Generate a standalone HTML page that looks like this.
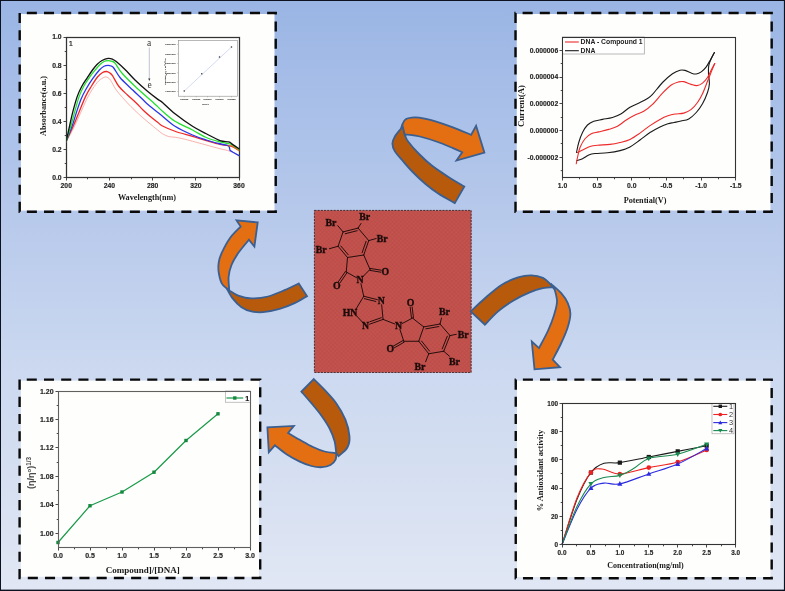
<!DOCTYPE html>
<html><head><meta charset="utf-8"><title>Graphical abstract</title>
<style>html,body{margin:0;padding:0;background:#c3d1ee;overflow:hidden}svg{display:block}</style></head><body>
<svg width="785" height="591" viewBox="0 0 785 591">
<defs>
<linearGradient id="bg" x1="0" y1="0" x2="0" y2="1">
<stop offset="0" stop-color="#9ab5e4"/>
<stop offset="0.17" stop-color="#a8bfe8"/>
<stop offset="0.365" stop-color="#b7c9eb"/>
<stop offset="0.635" stop-color="#ccd9f0"/>
<stop offset="0.8" stop-color="#d5dff1"/>
<stop offset="1" stop-color="#e1e7f4"/>
</linearGradient>
<pattern id="tex" width="3" height="3" patternUnits="userSpaceOnUse" patternTransform="rotate(45)"><rect width="1.5" height="1.5" fill="#fff" opacity="0.035"/><rect x="1.5" y="1.5" width="1.5" height="1.5" fill="#000" opacity="0.035"/></pattern>
</defs>
<rect x="0" y="0" width="785" height="591" fill="#0c1220"/>
<rect x="1" y="1" width="782.9" height="588.6" fill="url(#bg)"/>
<rect x="20.95" y="14" width="253.55" height="196.6" fill="#fefefd"/>
<path d="M19.7 13V211.8H275.75V13Z" pathLength="53" fill="none" stroke="#0a0a0a" stroke-width="2.4" stroke-dasharray="0.585 0.415"/>
<rect x="66.5" y="37.5" width="173" height="140" fill="none" stroke="#333333" stroke-width="1.25"/>
<path d="M63.5 37.5h3M64.7 51.5h1.8M63.5 65.5h3M64.7 79.5h1.8M63.5 93.5h3M64.7 107.5h1.8M63.5 121.5h3M64.7 135.5h1.8M63.5 149.5h3M64.7 163.5h1.8M63.5 177.5h3" stroke="#333333" stroke-width="0.9" fill="none"/>
<g font-family="Liberation Sans, Arial, sans-serif" font-weight="bold" font-size="6.8" fill="#262626" stroke="#262626" stroke-width="0.15" text-anchor="end">
<text x="61.65" y="39.4">1.0</text>
<text x="61.65" y="67.54">0.8</text>
<text x="61.65" y="95.68">0.6</text>
<text x="61.65" y="123.82">0.4</text>
<text x="61.65" y="151.96">0.2</text>
<text x="61.65" y="180.1">0.0</text>
</g>
<path d="M66.5 177.5v3M87.5 177.5v1.8M109.5 177.5v3M131.5 177.5v1.8M152.5 177.5v3M174.5 177.5v1.8M195.5 177.5v3M217.5 177.5v1.8M239.5 177.5v3" stroke="#333333" stroke-width="0.9" fill="none"/>
<g font-family="Liberation Sans, Arial, sans-serif" font-weight="bold" font-size="6.8" fill="#262626" stroke="#262626" stroke-width="0.15" text-anchor="middle">
<text x="66.25" y="188">200</text>
<text x="109.44" y="188">240</text>
<text x="152.63" y="188">280</text>
<text x="195.82" y="188">320</text>
<text x="239.01" y="188">360</text>
</g>
<text transform="translate(45.6 106) rotate(-90)" font-family="Liberation Serif, Times New Roman, serif" font-weight="bold" font-size="8.2" fill="#1a1a1a" text-anchor="middle" >Absorbance(a.u.)</text>
<text x="147" y="199.6" font-family="Liberation Serif, Times New Roman, serif" font-weight="bold" font-size="8.2" fill="#1a1a1a" text-anchor="middle">Wavelength(nm)</text>
<text x="68.8" y="45.6" font-family="Liberation Sans, Arial, sans-serif" font-size="7.6" fill="#111" stroke="#111" stroke-width="0.15">1</text>
<text x="147" y="45.6" font-family="Liberation Serif, Times New Roman, serif" font-size="9.5" fill="#333">a</text>
<text x="147.6" y="88" font-family="Liberation Serif, Times New Roman, serif" font-size="9.5" fill="#333">e</text>
<path d="M149.3 47.5V79.5" stroke="#8088a8" stroke-width="0.5" fill="none"/><path d="M148.2 78.5h2.2l-1.1 2.6z" fill="#333"/>
<clipPath id="c1"><rect x="66.25" y="37" width="173.25" height="140.7"/></clipPath>
<g clip-path="url(#c1)" fill="none" stroke-linejoin="round" stroke-linecap="round">
<path d="M66.25 142 C67.66 139.3 72.24 130.82 74.7 125.8 C77.16 120.78 79 116.33 81 111.9 C83 107.47 84.78 103.02 86.7 99.2 C88.62 95.38 90.48 92.07 92.5 89 C94.52 85.93 96.9 82.73 98.8 80.8 C100.7 78.87 102.63 78.03 103.9 77.4 C105.17 76.77 105.45 76.75 106.4 77 C107.35 77.25 108.67 77.95 109.6 78.9 C110.53 79.85 110.89 80.85 112 82.7 C113.11 84.55 114.5 87.53 116.25 90 C118 92.47 120.62 95.33 122.5 97.5 C124.38 99.67 125.42 100.83 127.5 103 C129.58 105.17 132.58 108.17 135 110.5 C137.42 112.83 139.5 114.79 142 117 C144.5 119.21 147.5 121.67 150 123.75 C152.5 125.83 154.92 127.83 157 129.5 C159.08 131.17 160.54 132.57 162.5 133.75 C164.46 134.93 166.67 136.03 168.75 136.6 C170.83 137.17 172.62 136.83 175 137.2 C177.38 137.57 180.08 138.12 183 138.8 C185.92 139.48 188.62 140.22 192.5 141.25 C196.38 142.28 201.67 143.75 206.25 145 C210.83 146.25 216.04 147.71 220 148.75 C223.96 149.79 226.83 150.11 230 151.25 C233.17 152.39 237.5 154.88 239 155.6" stroke="#f9a8a4" stroke-width="0.9"/>
<path d="M66.25 141 C67.44 138.47 71.26 130.65 73.4 125.8 C75.54 120.95 77.08 116.77 79.1 111.9 C81.12 107.03 83.48 100.83 85.5 96.6 C87.52 92.37 89.2 89.77 91.2 86.5 C93.2 83.23 95.6 79.33 97.5 77 C99.4 74.67 101.12 73.42 102.6 72.5 C104.08 71.58 105.23 71.45 106.4 71.5 C107.57 71.55 108.58 72.1 109.6 72.8 C110.62 73.5 110.97 73.46 112.5 75.7 C114.03 77.94 116.25 83.03 118.75 86.25 C121.25 89.47 124.58 92.21 127.5 95 C130.42 97.79 133.67 100.5 136.25 103 C138.83 105.5 140.71 107.79 143 110 C145.29 112.21 147.52 114.17 150 116.25 C152.48 118.33 155.82 120.88 157.9 122.5 C159.98 124.12 159.65 124.54 162.5 126 C165.35 127.46 170 129.52 175 131.25 C180 132.98 187.29 134.84 192.5 136.4 C197.71 137.96 201.67 139.27 206.25 140.6 C210.83 141.93 216.04 143.53 220 144.4 C223.96 145.27 227.67 145.28 230 145.8 C232.33 146.32 232.5 146.7 234 147.5 C235.5 148.3 238.17 150.08 239 150.6" stroke="#f02828" stroke-width="1.3"/>
<path d="M66.25 141 C67.24 138.47 70.48 130.65 72.2 125.8 C73.92 120.95 75.13 116.33 76.6 111.9 C78.07 107.47 79.42 103.02 81 99.2 C82.58 95.38 84.18 92.38 86.1 89 C88.02 85.62 90.28 82.07 92.5 78.9 C94.72 75.73 97.48 72.1 99.4 70 C101.32 67.9 102.57 67.07 104 66.3 C105.43 65.53 106.83 65.45 108 65.4 C109.17 65.35 110.04 65.57 111 66 C111.96 66.43 112.25 66.08 113.75 68 C115.25 69.92 117.29 74.25 120 77.5 C122.71 80.75 126.46 84.08 130 87.5 C133.54 90.92 138.54 95.42 141.25 98 C143.96 100.58 144.79 101.62 146.25 103 C147.71 104.38 148.06 104.67 150 106.25 C151.94 107.83 155.82 110.83 157.9 112.5 C159.98 114.17 159.65 113.96 162.5 116.25 C165.35 118.54 170 123.12 175 126.25 C180 129.38 187.29 132.71 192.5 135 C197.71 137.29 201.67 138.54 206.25 140 C210.83 141.46 216.38 142.85 220 143.75 C223.62 144.65 226.67 145.12 228 145.4 L229.3 147 L230 150.4 L233 152.3 L239 155.6" stroke="#2a38e8" stroke-width="1.3"/>
<path d="M66.25 141 C67.03 138.47 69.49 130.65 70.9 125.8 C72.31 120.95 73.33 116.77 74.7 111.9 C76.07 107.03 77.62 100.83 79.1 96.6 C80.58 92.37 81.9 89.67 83.6 86.5 C85.3 83.33 87.37 80.35 89.3 77.6 C91.23 74.85 93.42 72.18 95.2 70 C96.98 67.82 98.53 65.92 100 64.5 C101.47 63.08 102.67 62.15 104 61.5 C105.33 60.85 106.67 60.63 108 60.6 C109.33 60.57 110.83 60.87 112 61.3 C113.17 61.73 113.25 61.12 115 63.2 C116.75 65.28 119.17 69.91 122.5 73.75 C125.83 77.59 130.83 82.29 135 86.25 C139.17 90.21 144.38 94.71 147.5 97.5 C150.62 100.29 152.02 101.43 153.75 103 C155.48 104.57 156.44 105.53 157.9 106.9 C159.36 108.28 159.65 108.86 162.5 111.25 C165.35 113.64 170 118.12 175 121.25 C180 124.38 187.29 127.29 192.5 130 C197.71 132.71 201.67 135.52 206.25 137.5 C210.83 139.48 216.04 140.82 220 141.9 C223.96 142.98 227.67 143.23 230 144 C232.33 144.77 232.5 145.5 234 146.5 C235.5 147.5 238.17 149.42 239 150" stroke="#22e030" stroke-width="1.3"/>
<path d="M228 146 L232 145.8 L239 150.5" stroke="#e07818" stroke-width="1"/>
<path d="M66.25 141 C66.81 138.47 68.51 130.65 69.6 125.8 C70.69 120.95 71.53 116.77 72.8 111.9 C74.07 107.03 75.72 100.83 77.2 96.6 C78.68 92.37 80 89.67 81.7 86.5 C83.4 83.33 85.6 80.35 87.4 77.6 C89.2 74.85 90.9 72.18 92.5 70 C94.1 67.82 95.42 66.08 97 64.5 C98.58 62.92 100.15 61.52 102 60.5 C103.85 59.48 106.35 58.62 108.1 58.4 C109.85 58.18 111.14 58.68 112.5 59.2 C113.86 59.72 114.17 59.78 116.25 61.5 C118.33 63.22 121.88 66.42 125 69.5 C128.12 72.58 131.25 76.38 135 80 C138.75 83.62 143.68 88.02 147.5 91.25 C151.32 94.48 155.4 97.53 157.9 99.4 C160.4 101.28 159.65 100.11 162.5 102.5 C165.35 104.89 170 109.79 175 113.75 C180 117.71 187.29 122.92 192.5 126.25 C197.71 129.58 201.67 131.36 206.25 133.75 C210.83 136.14 216.25 139.24 220 140.6 C223.75 141.96 226.67 141.27 228.75 141.9 C230.83 142.53 230.79 143.26 232.5 144.4 C234.21 145.54 237.92 148.03 239 148.75" stroke="#141414" stroke-width="1.35"/>
</g>
<rect x="178.3" y="40.4" width="59.3" height="55.8" fill="#ffffff" stroke="#8a8a8a" stroke-width="0.6"/>
<path d="M184.25 91 L231.5 47" stroke="#a8b4e8" stroke-width="0.5" fill="none"/>
<rect x="183.6" y="90.35" width="1.3" height="1.3" fill="#333"/>
<rect x="201.1" y="73.1" width="1.3" height="1.3" fill="#333"/>
<rect x="218.85" y="56.35" width="1.3" height="1.3" fill="#333"/>
<rect x="230.85" y="46.35" width="1.3" height="1.3" fill="#333"/>
<g font-family="Liberation Sans, Arial, sans-serif" font-size="8" fill="#3a3a3a" stroke="#3a3a3a" stroke-width="0.2" font-weight="bold">
<text transform="translate(175.6 45.3) scale(0.285)" text-anchor="end">6.00E-010</text>
<text transform="translate(175.6 54.8) scale(0.285)" text-anchor="end">5.00E-010</text>
<text transform="translate(175.6 64.3) scale(0.285)" text-anchor="end">4.00E-010</text>
<text transform="translate(175.6 73.55) scale(0.285)" text-anchor="end">3.00E-010</text>
<text transform="translate(175.6 82.8) scale(0.285)" text-anchor="end">2.00E-010</text>
<text transform="translate(175.6 92.3) scale(0.285)" text-anchor="end">1.00E-010</text>
<text transform="translate(184.25 100.3) scale(0.285)" text-anchor="middle">0.00000</text>
<text transform="translate(196.25 100.3) scale(0.285)" text-anchor="middle">0.00005</text>
<text transform="translate(207.5 100.3) scale(0.285)" text-anchor="middle">0.00010</text>
<text transform="translate(219.5 100.3) scale(0.285)" text-anchor="middle">0.00015</text>
<text transform="translate(231.5 100.3) scale(0.285)" text-anchor="middle">0.00020</text>
<text transform="translate(205.5 104.6) scale(0.3)" text-anchor="middle">[DNA]</text>
<text transform="translate(166 71.4) rotate(-90) scale(0.3)" text-anchor="middle">[DNA]/(ε<tspan baseline-shift="sub" font-size="6">a</tspan>-ε<tspan baseline-shift="sub" font-size="6">f</tspan>) x 10<tspan baseline-shift="super" font-size="6">9</tspan>M<tspan baseline-shift="super" font-size="6">2</tspan>cm</text>
</g>
<path d="M178.3 44.5h-1.2M178.3 54h-1.2M178.3 63.5h-1.2M178.3 72.75h-1.2M178.3 82h-1.2M178.3 91.5h-1.2M184.25 96.2v1.2M196.25 96.2v1.2M207.5 96.2v1.2M219.5 96.2v1.2M231.5 96.2v1.2" stroke="#888" stroke-width="0.4"/>
<rect x="516.75" y="14" width="253.7" height="196.5" fill="#fefefd"/>
<path d="M515.5 13V211.7H771.7V13Z" pathLength="53" fill="none" stroke="#0a0a0a" stroke-width="2.4" stroke-dasharray="0.585 0.415"/>
<rect x="562.5" y="37.5" width="173" height="140" fill="none" stroke="#333333" stroke-width="1.05"/>
<path d="M559.5 50.5h3M560.7 63.5h1.8M559.5 77.5h3M560.7 90.5h1.8M559.5 103.5h3M560.7 117.5h1.8M559.5 130.5h3M560.7 143.5h1.8M559.5 157.5h3" stroke="#333333" stroke-width="0.9" fill="none"/>
<g font-family="Liberation Sans, Arial, sans-serif" font-weight="bold" font-size="6.8" fill="#262626" stroke="#262626" stroke-width="0.15" text-anchor="end">
<text x="558.2" y="52.65">0.000006</text>
<text x="558.2" y="79.4">0.000004</text>
<text x="558.2" y="106">0.000002</text>
<text x="558.2" y="132.8">0.000000</text>
<text x="558.2" y="159.6">-0.000002</text>
</g>
<path d="M562.5 170.6h-1.8" stroke="#333333" stroke-width="0.9"/>
<path d="M562.5 177.5v3M579.5 177.5v1.8M597.5 177.5v3M614.5 177.5v1.8M631.5 177.5v3M649.5 177.5v1.8M666.5 177.5v3M683.5 177.5v1.8M701.5 177.5v3M718.5 177.5v1.8M735.5 177.5v3" stroke="#333333" stroke-width="0.9" fill="none"/>
<g font-family="Liberation Sans, Arial, sans-serif" font-weight="bold" font-size="6.8" fill="#262626" stroke="#262626" stroke-width="0.15" text-anchor="middle">
<text x="562.5" y="188.3">1.0</text>
<text x="597.15" y="188.3">0.5</text>
<text x="631.8" y="188.3">0.0</text>
<text x="666.45" y="188.3">-0.5</text>
<text x="701.1" y="188.3">-1.0</text>
<text x="735.75" y="188.3">-1.5</text>
</g>
<text transform="translate(523.8 106) rotate(-90)" font-family="Liberation Serif, Times New Roman, serif" font-weight="bold" font-size="8.6" fill="#1a1a1a" text-anchor="middle" >Current(A)</text>
<text x="645" y="203" font-family="Liberation Serif, Times New Roman, serif" font-weight="bold" font-size="8.2" fill="#1a1a1a" text-anchor="middle">Potential(V)</text>
<g fill="none" stroke-linejoin="round" stroke-linecap="round">
<path d="M576.5 152.5 C576.88 150.83 577.75 145.83 578.75 142.5 C579.75 139.17 581.04 135.42 582.5 132.5 C583.96 129.58 585.62 126.88 587.5 125 C589.38 123.12 591.25 122.18 593.75 121.25 C596.25 120.32 599.38 120.03 602.5 119.4 C605.62 118.78 609.38 118.44 612.5 117.5 C615.62 116.56 618.33 115.47 621.25 113.75 C624.17 112.03 626.88 109.08 630 107.2 C633.12 105.33 637.08 103.95 640 102.5 C642.92 101.05 645.42 99.85 647.5 98.5 C649.58 97.15 650 97.07 652.5 94.4 C655 91.73 659.17 85.94 662.5 82.5 C665.83 79.06 669.58 75.79 672.5 73.75 C675.42 71.71 677.92 70.81 680 70.25 C682.08 69.69 683.12 69.93 685 70.4 C686.88 70.88 689.38 72.5 691.25 73.1 C693.12 73.7 694.58 74.2 696.25 74 C697.92 73.8 699.58 73.08 701.25 71.9 C702.92 70.72 704.69 68.98 706.25 66.9 C707.81 64.82 709.24 61.8 710.6 59.4 C711.96 57 713.77 53.65 714.4 52.5" stroke="#1a1a1a" stroke-width="1.1"/>
<path d="M714.4 52.5 C713.88 53.54 712.19 56.57 711.25 58.75 C710.31 60.93 709.21 63.1 708.75 65.6 C708.29 68.1 708.39 70.72 708.5 73.75 C708.61 76.78 709.57 80.62 709.4 83.75 C709.23 86.88 708.65 89.17 707.5 92.5 C706.35 95.83 704.38 100.42 702.5 103.75 C700.62 107.08 698.54 109.97 696.25 112.5 C693.96 115.03 691.29 117.48 688.75 118.9 C686.21 120.32 683.46 120.4 681 121 C678.54 121.6 676.18 122.04 674 122.5 C671.82 122.96 670.23 123.02 667.9 123.75 C665.57 124.48 662.98 125.44 660 126.9 C657.02 128.36 653.33 130.32 650 132.5 C646.67 134.68 643.33 137.6 640 140 C636.67 142.4 633.33 145.13 630 146.9 C626.67 148.67 623.75 149.62 620 150.6 C616.25 151.57 611.67 152.27 607.5 152.75 C603.33 153.23 598.12 153.12 595 153.5 C591.88 153.88 590.83 154.12 588.75 155 C586.67 155.88 584.48 157.82 582.5 158.75 C580.52 159.68 577.83 160.29 576.9 160.6" stroke="#1a1a1a" stroke-width="1.1"/>
<path d="M576.25 163.75 C576.5 162.5 577.12 158.96 577.75 156.25 C578.38 153.54 578.79 150.42 580 147.5 C581.21 144.58 583.12 141.04 585 138.75 C586.88 136.46 588.96 134.89 591.25 133.75 C593.54 132.61 595.83 132.62 598.75 131.9 C601.67 131.18 605.62 130.34 608.75 129.4 C611.88 128.46 614.58 127.82 617.5 126.25 C620.42 124.68 623.33 121.88 626.25 120 C629.17 118.12 632.08 116.46 635 115 C637.92 113.54 640.83 113.02 643.75 111.25 C646.67 109.48 649.38 107.43 652.5 104.4 C655.62 101.38 659.38 96.33 662.5 93.1 C665.62 89.87 668.54 86.87 671.25 85 C673.96 83.13 676.67 82.47 678.75 81.9 C680.83 81.33 681.67 81.18 683.75 81.6 C685.83 82.02 689.06 83.73 691.25 84.4 C693.44 85.07 695.02 85.82 696.9 85.6 C698.77 85.38 700.73 84.45 702.5 83.1 C704.27 81.75 706.04 79.68 707.5 77.5 C708.96 75.32 710.04 72.33 711.25 70 C712.46 67.67 714.17 64.58 714.75 63.5" stroke="#ee2a2a" stroke-width="1.1"/>
<path d="M714.75 63.5 C714.17 64.9 712.46 68.94 711.25 71.9 C710.04 74.86 708.96 77.61 707.5 81.25 C706.04 84.89 704.17 90.21 702.5 93.75 C700.83 97.29 699.38 99.89 697.5 102.5 C695.62 105.11 693.54 107.63 691.25 109.4 C688.96 111.17 686.46 112.33 683.75 113.1 C681.04 113.87 677.64 113.55 675 114 C672.36 114.45 670.4 114.9 667.9 115.8 C665.4 116.7 662.98 117.77 660 119.4 C657.02 121.03 653.33 123.32 650 125.6 C646.67 127.88 643.33 130.8 640 133.1 C636.67 135.4 633.33 137.83 630 139.4 C626.67 140.97 623.33 141.67 620 142.5 C616.67 143.33 613.75 143.94 610 144.4 C606.25 144.86 600.83 144.9 597.5 145.25 C594.17 145.6 592.29 145.81 590 146.5 C587.71 147.19 585.83 148.4 583.75 149.4 C581.67 150.4 578.54 151.98 577.5 152.5" stroke="#ee2a2a" stroke-width="1.1"/>
</g>
<rect x="562.5" y="37" width="81.8" height="17" fill="#fff" stroke="#9a9a9a" stroke-width="0.7"/>
<path d="M565 42H578.8" stroke="#ee2a2a" stroke-width="1.1"/><path d="M565 50.7H578.8" stroke="#1a1a1a" stroke-width="1.1"/>
<text x="580.6" y="44.3" font-family="Liberation Sans, Arial, sans-serif" font-weight="bold" font-size="6.8" fill="#222">DNA - Compound 1</text>
<text x="580.6" y="53" font-family="Liberation Sans, Arial, sans-serif" font-weight="bold" font-size="6.8" fill="#222">DNA</text>
<rect x="562.5" y="37.5" width="173" height="140" fill="none" stroke="#333333" stroke-width="1.05"/>
<rect x="20.85" y="380.6" width="238.1" height="196.2" fill="#fefefd"/>
<path d="M19.6 379.6V578H260.2V379.6Z" pathLength="51" fill="none" stroke="#0a0a0a" stroke-width="2.4" stroke-dasharray="0.585 0.415"/>
<rect x="58.5" y="391.5" width="192" height="156" fill="none" stroke="#606060" stroke-width="1.05"/>
<path d="M55.5 391.5h3M56.7 405.5h1.8M55.5 419.5h3M56.7 433.5h1.8M55.5 447.5h3M56.7 462.5h1.8M55.5 476.5h3M56.7 490.5h1.8M55.5 504.5h3M56.7 519.5h1.8M55.5 533.5h3" stroke="#333333" stroke-width="0.9" fill="none"/>
<g font-family="Liberation Sans, Arial, sans-serif" font-weight="bold" font-size="7" fill="#262626" stroke="#262626" stroke-width="0.15" text-anchor="end">
<text x="53.6" y="393.5">1.20</text>
<text x="53.6" y="421.95">1.16</text>
<text x="53.6" y="450.4">1.12</text>
<text x="53.6" y="478.85">1.08</text>
<text x="53.6" y="507.3">1.04</text>
<text x="53.6" y="535.75">1.00</text>
</g>
<path d="M58.5 547.5v3M74.5 547.5v1.8M90.5 547.5v3M106.5 547.5v1.8M122.5 547.5v3M138.5 547.5v1.8M154.5 547.5v3M170.5 547.5v1.8M186.5 547.5v3M202.5 547.5v1.8M218.5 547.5v3M234.5 547.5v1.8M250.5 547.5v3" stroke="#333333" stroke-width="0.9" fill="none"/>
<g font-family="Liberation Sans, Arial, sans-serif" font-weight="bold" font-size="7" fill="#262626" stroke="#262626" stroke-width="0.15" text-anchor="middle">
<text x="58" y="558.4">0.0</text>
<text x="90" y="558.4">0.5</text>
<text x="122" y="558.4">1.0</text>
<text x="154" y="558.4">1.5</text>
<text x="186" y="558.4">2.0</text>
<text x="218" y="558.4">2.5</text>
<text x="250" y="558.4">3.0</text>
</g>
<text transform="translate(34.2 473) rotate(-90)" font-family="Liberation Sans, Arial, sans-serif" font-weight="bold" font-size="9" fill="#4a4a4a" text-anchor="middle">(η/η<tspan baseline-shift="super" font-size="6">o</tspan>)<tspan baseline-shift="super" font-size="6.4">1/3</tspan></text>
<text x="142.8" y="573.2" font-family="Liberation Serif, Times New Roman, serif" font-weight="bold" font-size="9" fill="#1a1a1a" text-anchor="middle">Compound]/[DNA]</text>
<path d="M58 542.5 L90 505.75 L122 492 L154 472.2 L186 440.5 L218 413.8" stroke="#189a48" stroke-width="1.2" fill="none" stroke-linejoin="round"/>
<rect x="56.3" y="540.8" width="3.4" height="3.4" fill="#14883e"/>
<rect x="88.3" y="504.05" width="3.4" height="3.4" fill="#14883e"/>
<rect x="120.3" y="490.3" width="3.4" height="3.4" fill="#14883e"/>
<rect x="152.3" y="470.5" width="3.4" height="3.4" fill="#14883e"/>
<rect x="184.3" y="438.8" width="3.4" height="3.4" fill="#14883e"/>
<rect x="216.3" y="412.1" width="3.4" height="3.4" fill="#14883e"/>
<rect x="225.3" y="391" width="25" height="11.2" fill="#fff" stroke="#9a9a9a" stroke-width="0.6"/>
<path d="M226.4 398H243.2" stroke="#189a48" stroke-width="1.2"/><rect x="233.1" y="396.3" width="3.4" height="3.4" fill="#14883e"/>
<text x="245.2" y="400.5" font-family="Liberation Sans, Arial, sans-serif" font-weight="bold" font-size="7.2" fill="#1a1a1a" stroke="#1a1a1a" stroke-width="0.2">1</text>
<rect x="58.5" y="391.5" width="192" height="156" fill="none" stroke="#606060" stroke-width="1.05"/>
<rect x="517" y="380.6" width="253.45" height="196.4" fill="#fefefd"/>
<path d="M515.75 379.6V578.2H771.7V379.6Z" pathLength="53" fill="none" stroke="#0a0a0a" stroke-width="2.4" stroke-dasharray="0.585 0.415"/>
<rect x="562.5" y="403.5" width="173" height="141" fill="none" stroke="#333333" stroke-width="1.05"/>
<path d="M559.5 403.5h3M560.7 417.5h1.8M559.5 431.5h3M560.7 445.5h1.8M559.5 459.5h3M560.7 473.5h1.8M559.5 488.5h3M560.7 502.5h1.8M559.5 516.5h3M560.7 530.5h1.8M559.5 544.5h3" stroke="#333333" stroke-width="0.9" fill="none"/>
<g font-family="Liberation Sans, Arial, sans-serif" font-weight="bold" font-size="6.4" fill="#262626" stroke="#262626" stroke-width="0.15" text-anchor="end">
<text x="558" y="405.7">100</text>
<text x="558" y="433.96">80</text>
<text x="558" y="462.22">60</text>
<text x="558" y="490.48">40</text>
<text x="558" y="518.74">20</text>
<text x="558" y="547">0</text>
</g>
<path d="M562.5 544.5v3M576.5 544.5v1.8M590.5 544.5v3M605.5 544.5v1.8M619.5 544.5v3M634.5 544.5v1.8M648.5 544.5v3M663.5 544.5v1.8M677.5 544.5v3M692.5 544.5v1.8M706.5 544.5v3M721.5 544.5v1.8M735.5 544.5v3" stroke="#333333" stroke-width="0.9" fill="none"/>
<g font-family="Liberation Sans, Arial, sans-serif" font-weight="bold" font-size="6.4" fill="#262626" stroke="#262626" stroke-width="0.15" text-anchor="middle">
<text x="562" y="555">0.0</text>
<text x="590.93" y="555">0.5</text>
<text x="619.86" y="555">1.0</text>
<text x="648.79" y="555">1.5</text>
<text x="677.72" y="555">2.0</text>
<text x="706.65" y="555">2.5</text>
<text x="735.58" y="555">3.0</text>
</g>
<text transform="translate(543.2 470.5) rotate(-90)" font-family="Liberation Serif, Times New Roman, serif" font-weight="bold" font-size="8.4" fill="#1a1a1a" text-anchor="middle" >% Antioxidant activity</text>
<text x="645.5" y="568" font-family="Liberation Serif, Times New Roman, serif" font-weight="bold" font-size="8" fill="#1a1a1a" text-anchor="middle">Concentration(mg/ml)</text>
<g fill="none" stroke-linejoin="round" stroke-linecap="round" stroke-width="1.1">
<path d="M562 544.6 C564.5 537.06 572.18 511.39 577 499.38 C581.82 487.37 586.43 478.54 590.93 472.54 C595.43 466.53 599.18 465 604 463.35 C608.82 461.7 612.39 463.71 619.86 462.65 C627.33 461.59 639.15 458.88 648.79 456.99 C658.43 455.11 668.08 453.23 677.72 451.34 C687.36 449.46 701.83 446.63 706.65 445.69" stroke="#1a1a1a"/>
<path d="M562 544.6 C564.5 536.83 572.18 509.98 577 497.97 C581.82 485.96 586.76 477.36 590.93 472.54 C595.1 467.71 597.18 468.77 602 469 C606.82 469.24 612.06 474.19 619.86 473.95 C627.66 473.71 639.15 469.59 648.79 467.59 C658.43 465.59 668.08 464.88 677.72 461.94 C687.36 459 701.83 451.93 706.65 449.93" stroke="#ee2222"/>
<path d="M562 544.6 C564.5 538.71 572.18 518.7 577 509.28 C581.82 499.86 586.43 492.44 590.93 488.08 C595.43 483.72 599.18 483.84 604 483.13 C608.82 482.43 612.39 485.37 619.86 483.84 C627.33 482.31 639.15 477.25 648.79 473.95 C658.43 470.65 668.08 468.3 677.72 464.06 C687.36 459.82 701.83 451.11 706.65 448.52" stroke="#2a2ae0"/>
<path d="M562 544.6 C564.5 538.24 572.18 516.58 577 506.45 C581.82 496.32 586.43 488.67 590.93 483.84 C595.43 479.01 599.18 478.9 604 477.48 C608.82 476.07 614.86 476.89 619.86 475.36 C624.86 473.83 629.18 471.12 634 468.3 C638.82 465.47 641.5 460.76 648.79 458.41 C656.08 456.05 668.08 456.52 677.72 454.17 C687.36 451.81 701.83 445.93 706.65 444.28" stroke="#1a8a50"/>
</g>
<rect x="588.83" y="470.44" width="4.2" height="4.2" fill="#1a1a1a"/>
<rect x="617.76" y="460.55" width="4.2" height="4.2" fill="#1a1a1a"/>
<rect x="646.69" y="454.89" width="4.2" height="4.2" fill="#1a1a1a"/>
<rect x="675.62" y="449.24" width="4.2" height="4.2" fill="#1a1a1a"/>
<rect x="704.55" y="443.59" width="4.2" height="4.2" fill="#1a1a1a"/>
<circle cx="590.93" cy="472.54" r="2.31" fill="#ee2222"/>
<circle cx="619.86" cy="473.95" r="2.31" fill="#ee2222"/>
<circle cx="648.79" cy="467.59" r="2.31" fill="#ee2222"/>
<circle cx="677.72" cy="461.94" r="2.31" fill="#ee2222"/>
<circle cx="706.65" cy="449.93" r="2.31" fill="#ee2222"/>
<path d="M590.93 485.35L593.45 489.97L588.41 489.97Z" fill="#2a2ae0"/>
<path d="M619.86 481.11L622.38 485.73L617.34 485.73Z" fill="#2a2ae0"/>
<path d="M648.79 471.22L651.31 475.84L646.27 475.84Z" fill="#2a2ae0"/>
<path d="M677.72 461.33L680.24 465.95L675.2 465.95Z" fill="#2a2ae0"/>
<path d="M706.65 445.79L709.17 450.41L704.13 450.41Z" fill="#2a2ae0"/>
<path d="M590.93 486.57L593.45 481.95L588.41 481.95Z" fill="#1a8a50"/>
<path d="M619.86 478.09L622.38 473.47L617.34 473.47Z" fill="#1a8a50"/>
<path d="M648.79 461.14L651.31 456.52L646.27 456.52Z" fill="#1a8a50"/>
<path d="M677.72 456.9L680.24 452.28L675.2 452.28Z" fill="#1a8a50"/>
<path d="M706.65 447.01L709.17 442.39L704.13 442.39Z" fill="#1a8a50"/>
<rect x="712" y="403.3" width="22" height="30.5" fill="#fff" stroke="#9a9a9a" stroke-width="0.6"/>
<path d="M713.3 406.3H727.3" stroke="#1a1a1a" stroke-width="1.1"/>
<rect x="718.6" y="404.6" width="3.4" height="3.4" fill="#1a1a1a"/>
<text x="729" y="408.7" font-family="Liberation Sans, Arial, sans-serif" font-size="7.4" fill="#333">1</text>
<path d="M713.3 414.5H727.3" stroke="#ee2222" stroke-width="1.1"/>
<circle cx="720.3" cy="414.5" r="1.87" fill="#ee2222"/>
<text x="729" y="416.9" font-family="Liberation Sans, Arial, sans-serif" font-size="7.4" fill="#333">2</text>
<path d="M713.3 422.6H727.3" stroke="#2a2ae0" stroke-width="1.1"/>
<path d="M720.3 420.39L722.34 424.13L718.26 424.13Z" fill="#2a2ae0"/>
<text x="729" y="425" font-family="Liberation Sans, Arial, sans-serif" font-size="7.4" fill="#333">3</text>
<path d="M713.3 430.6H727.3" stroke="#1a8a50" stroke-width="1.1"/>
<path d="M720.3 432.81L722.34 429.07L718.26 429.07Z" fill="#1a8a50"/>
<text x="729" y="433" font-family="Liberation Sans, Arial, sans-serif" font-size="7.4" fill="#333">4</text>
<rect x="562.5" y="403.5" width="173" height="141" fill="none" stroke="#333333" stroke-width="1.05"/>
<rect x="314.4" y="210.4" width="156.8" height="162.1" fill="#c14f4a"/>
<rect x="314.4" y="210.4" width="156.8" height="162.1" fill="url(#tex)"/>
<rect x="314.4" y="210.4" width="156.8" height="162.1" fill="none" stroke="#1a0a0a" stroke-width="0.7" stroke-dasharray="2.1 1.1"/>
<path d="M343.1 231.9L358.1 228.1M358.1 228.1L368.75 240.6M368.75 240.6L363.75 255M363.75 255L347.5 257.5M347.5 257.5L338.1 246.25M338.1 246.25L343.1 231.9M345.22 233.74L357.11 230.72M366.05 241.36L362.1 252.73M348.24 254.8L340.89 246M343.1 231.9L337.8 225.7M358.1 228.1L361 223.5M368.75 240.6L376.2 238.5M338.1 246.25L329.4 248.7M363.75 255L370 269.4M347.5 257.5L346.25 272M370 269.4L362.38 277.17M346.25 272L356.85 277.86M369.84 270.39L380.94 272.21M370.16 268.41L381.27 270.23M345.43 271.43L338.46 281.57M347.07 272.57L340.1 282.71M360.92 283.7L363.75 296.25M363.75 296.25L377.37 299.64M364.4 298.67L375.81 301.45M381.66 304.78L383.1 319.4M383.1 319.4L369.56 324.2M381.24 317.72L369.9 321.73M363.02 322.81L356.46 315.69M355.93 309.16L363.75 296.25M383.1 319.4L394.68 323.88M401.96 323.63L412.5 318.1M399.84 329.2L403.75 341.25M412.5 318.1L423.75 326.9M403.75 341.25L418.75 341.25M413.49 317.98L412.15 306.95M411.51 318.22L410.16 307.19M403.25 340.38L393.39 346.04M404.25 342.12L394.39 347.78M423.75 326.9L440 324M440 324L450 335.6M450 335.6L443.75 351.25M443.75 351.25L428.75 353.75M428.75 353.75L418.75 341.25M418.75 341.25L423.75 326.9M425.73 328.88L438.83 326.55M447.27 336.23L442.21 348.91M429.55 351.06L421.55 341.06M440 324L441.5 318M450 335.6L456.3 334.3M443.75 351.25L449.4 356.2M428.75 353.75L425.6 361.8" stroke="#1c0b0b" stroke-width="0.95" fill="none" stroke-linecap="round"/>
<g font-family="Liberation Serif, Times New Roman, serif" font-weight="bold" font-size="9.8" fill="#1c0b0b" stroke="#1c0b0b" stroke-width="0.35" text-anchor="middle">
<text x="331" y="225.8">Br</text>
<text x="364.6" y="220.2">Br</text>
<text x="382.25" y="242.05">Br</text>
<text x="321.25" y="252.7">Br</text>
<text x="385.25" y="275.2">O</text>
<text x="336.9" y="288.9">O</text>
<text x="360" y="283.3">N</text>
<text x="381.25" y="303.9">N</text>
<text x="365.6" y="328.9">N</text>
<text x="350" y="316.05">HN</text>
<text x="398.6" y="328.9">N</text>
<text x="410.6" y="305.8">O</text>
<text x="390.25" y="352.3">O</text>
<text x="444.4" y="315.2">Br</text>
<text x="463.1" y="338.3">Br</text>
<text x="454.4" y="364.55">Br</text>
<text x="420" y="369.55">Br</text>
</g>
<path d="M400.7 129 C399.73 130.25 396.28 134.08 394.9 136.5 C393.52 138.92 392.4 141.02 392.4 143.5 C392.4 145.98 393.1 148.42 394.9 151.4 C396.7 154.38 400.23 157.97 403.2 161.4 C406.17 164.83 408.98 168.23 412.7 172 C416.42 175.77 421.25 180.42 425.5 184 C429.75 187.58 433.32 190.32 438.2 193.5 C443.08 196.68 452.03 201.5 454.8 203.1 L454.8 203.1 L464.3 186.5 L464.3 186.5 C461.65 184.9 453.82 180.4 448.4 176.9 C442.98 173.4 436.68 169.32 431.8 165.5 C426.92 161.68 423.05 158 419.1 154 C415.15 150 410.48 144.7 408.1 141.5 C405.72 138.3 405.35 135.92 404.8 134.8 L404.8 134.8 L402.3 124.9 Z" fill="#b85a0c" stroke="#3a5f90" stroke-width="1.8" stroke-linejoin="miter"/>
<path d="M402.3 124.9 C402.87 123.97 403.62 120.55 405.7 119.3 C407.78 118.05 411.63 117.52 414.8 117.4 C417.97 117.28 421.12 117.9 424.7 118.6 C428.28 119.3 431.6 120.13 436.3 121.6 C441 123.07 447.08 125.2 452.9 127.4 C458.72 129.6 468.15 133.57 471.2 134.8 L471.2 134.8 L476.1 125.7 L476.1 125.7 L484.4 152.7 L484.4 152.7 L456.5 160.5 L456.5 160.5 L462.2 152.3 L462.2 152.3 C460.65 151.6 457.22 149.9 452.9 148.1 C448.58 146.3 441.82 143.43 436.3 141.5 C430.78 139.57 424.22 137.62 419.8 136.5 C415.38 135.38 412.3 135.08 409.8 134.8 C407.3 134.52 405.63 134.8 404.8 134.8 Z" fill="#e36f12" stroke="#3a5f90" stroke-width="1.8" stroke-linejoin="miter"/>
<path d="M229.3 290.5 C230.78 291.35 234.52 294.28 238.2 295.6 C241.88 296.92 246.43 298.25 251.4 298.4 C256.37 298.55 262.47 297.87 268 296.5 C273.53 295.13 279.48 292.37 284.6 290.2 C289.72 288.03 296.35 284.62 298.7 283.5 L298.7 283.5 L307 296.1 L307 296.1 C304.93 297.27 299.17 300.97 294.6 303.1 C290.03 305.23 284.87 307.38 279.6 308.9 C274.33 310.42 267.7 311.78 263 312.2 C258.3 312.62 254.98 312.23 251.4 311.4 C247.82 310.57 244.67 309.42 241.5 307.2 C238.33 304.98 234.88 301.27 232.4 298.1 C229.92 294.93 227.57 289.85 226.6 288.2 Z" fill="#b85a0c" stroke="#3a5f90" stroke-width="1.8" stroke-linejoin="miter"/>
<path d="M226.6 288.2 C225.77 287.37 222.93 285.97 221.6 283.2 C220.27 280.43 219.07 275.13 218.6 271.6 C218.13 268.07 218.3 265.08 218.8 262 C219.3 258.92 219.75 257.07 221.6 253.1 C223.45 249.13 226.72 242.62 229.9 238.2 C233.08 233.78 238.9 228.53 240.7 226.6 L240.7 226.6 L236.5 220.3 L236.5 220.3 L257.7 222.4 L257.7 222.4 L254.4 246.5 L254.4 246.5 L248.9 239.8 L248.9 239.8 C247.12 242.02 241.1 248.9 238.2 253.1 C235.3 257.3 233.1 261.02 231.5 265 C229.9 268.98 228.97 272.75 228.6 277 C228.23 281.25 229.18 288.25 229.3 290.5 Z" fill="#e36f12" stroke="#3a5f90" stroke-width="1.8" stroke-linejoin="miter"/>
<path d="M470.8 311.4 C473.15 309.2 479.78 302.62 484.9 298.2 C490.02 293.78 495.98 288.37 501.5 284.9 C507.02 281.43 513.03 279 518 277.4 C522.97 275.8 527.15 275.22 531.3 275.3 C535.45 275.38 539.72 276.43 542.9 277.9 C546.08 279.37 548.47 282.25 550.4 284.1 C552.33 285.95 553.82 288.18 554.5 289 L554.5 289 C554.08 288.73 553.93 287.53 552 287.4 C550.07 287.27 546.62 287.37 542.9 288.2 C539.18 289.03 534.67 290.32 529.7 292.4 C524.73 294.48 518.37 297.53 513.1 300.7 C507.83 303.87 502.8 307.4 498.1 311.4 C493.4 315.4 487.1 322.48 484.9 324.7 Z" fill="#b85a0c" stroke="#3a5f90" stroke-width="1.8" stroke-linejoin="miter"/>
<path d="M551 283.8 C552.7 285.37 558.4 289.98 561.2 293.2 C564 296.42 566.27 299.63 567.8 303.1 C569.33 306.57 570.45 309.85 570.4 314 C570.35 318.15 569.1 323 567.5 328 C565.9 333 563.27 338.72 560.8 344 C558.33 349.28 554.05 357.08 552.7 359.7 L552.7 359.7 L560 367.2 L560 367.2 L534.5 369.3 L534.5 369.3 L531.8 341.5 L531.8 341.5 L539 348.1 L539 348.1 C540.52 345.17 545.62 335.93 548.1 330.5 C550.58 325.07 552.42 320.33 553.9 315.5 C555.38 310.67 556.9 305.92 557 301.5 C557.1 297.08 554.92 291.08 554.5 289 Z" fill="#e36f12" stroke="#3a5f90" stroke-width="1.8" stroke-linejoin="miter"/>
<path d="M313.8 379.1 C315.6 380.9 320.87 385.88 324.6 389.9 C328.33 393.92 332.73 398.23 336.2 403.2 C339.67 408.17 343.18 414.18 345.4 419.7 C347.62 425.22 349.17 431.67 349.5 436.3 C349.83 440.93 349.23 444.18 347.4 447.5 C345.57 450.82 339.98 454.75 338.5 456.2 L338.5 456.2 L336.2 452.9 L336.2 452.9 C335.93 450.97 335.7 445.37 334.6 441.3 C333.5 437.23 331.82 432.8 329.6 428.5 C327.38 424.2 324.33 419.72 321.3 415.5 C318.27 411.28 314.72 407.18 311.4 403.2 C308.08 399.22 303.07 393.53 301.4 391.6 Z" fill="#b85a0c" stroke="#3a5f90" stroke-width="1.8" stroke-linejoin="miter"/>
<path d="M336.2 453.2 C334.27 452.92 328.47 452.53 324.6 451.5 C320.73 450.47 317.13 448.95 313 447 C308.87 445.05 303.95 442.13 299.8 439.8 C295.65 437.47 290.05 434.13 288.1 433 L288.1 433 L293.9 425.9 L293.9 425.9 L267.4 427.3 L267.4 427.3 L268.8 452.2 L268.8 452.2 L274.9 445.3 L274.9 445.3 C276.83 446.78 282.35 451.48 286.5 454.2 C290.65 456.92 295.65 459.63 299.8 461.6 C303.95 463.57 307.7 465.07 311.4 466 C315.1 466.93 318.82 467.37 322 467.2 C325.18 467.03 328.23 466.25 330.5 465 C332.77 463.75 334.65 461.67 335.6 459.7 C336.55 457.73 336.1 454.28 336.2 453.2 Z" fill="#e36f12" stroke="#3a5f90" stroke-width="1.8" stroke-linejoin="miter"/>
</svg></body></html>
